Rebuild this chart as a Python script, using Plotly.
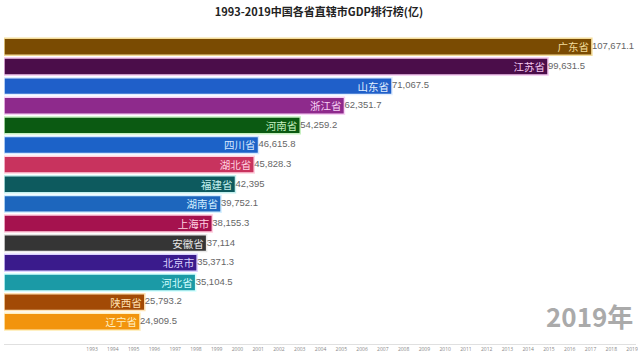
import plotly.graph_objects as go

provinces = ["广东省", "江苏省", "山东省", "浙江省", "河南省", "四川省", "湖北省", "福建省",
             "湖南省", "上海市", "安徽省", "北京市", "河北省", "陕西省", "辽宁省"]
gdp = [107671.1, 99631.5, 71067.5, 62351.7, 54259.2, 46615.8, 45828.3, 42395,
       39752.1, 38155.3, 37114, 35371.3, 35104.5, 25793.2, 24909.5]
bar_colors = ["#7a4b02", "#4b0d4a", "#1f5fc9", "#8e2a8c", "#0b5a12", "#1c62c8", "#c8335e", "#0d5a5e",
              "#1d66bd", "#a5124e", "#353535", "#3a1b8c", "#1b9aa6", "#a24a06", "#f2940d"]
label_colors = ["#f3dc9a", "#f3c6ef", "#e2efff", "#f8d2f5", "#c6f0c0", "#d4e8ff", "#ffd2e0", "#c4f0ef",
                "#d4efff", "#ffd0e0", "#e8e8e8", "#dcd2ff", "#d2ffff", "#ffe2b4", "#fff0c2"]
years = list(range(1993, 2020))
current_year = "2019年"
title = "1993-2019中国各省直辖市GDP排行榜(亿)"


def fmt(v):
    s = f"{v:,.1f}"
    return s[:-2] if s.endswith(".0") else s


n = len(provinces)
fig = go.Figure()
fig.add_trace(go.Bar(
    x=gdp, y=provinces, orientation="h",
    marker=dict(color=bar_colors, line=dict(color=label_colors, width=1.5)),
    text=provinces, textposition="inside", insidetextanchor="end", constraintext="none",
    textfont=dict(color=label_colors, size=10.5, family="Noto Sans CJK SC"),
    cliponaxis=False, hoverinfo="skip", width=0.86,
))
fig.add_trace(go.Scatter(
    x=gdp, y=provinces, mode="text", text=[fmt(v) for v in gdp],
    textposition="middle right",
    textfont=dict(color="#666666", size=9.5, family="Liberation Sans"),
    cliponaxis=False, hoverinfo="skip",
))
# timeline axis (invisible trace so that it is drawn)
fig.add_trace(go.Scatter(x=years, y=[provinces[0]] * len(years), xaxis="x2",
                         mode="markers", marker=dict(opacity=0, size=1), hoverinfo="skip"))

fig.update_layout(
    width=638, height=360,
    margin=dict(l=4, r=2, t=37, b=8, autoexpand=False),
    paper_bgcolor="white", plot_bgcolor="white",
    showlegend=False,
    title=dict(text=f"<b>{title}</b>", x=0.5, xanchor="center", y=0.965, yanchor="middle",
               font=dict(size=11, color="#222222", family="Noto Sans CJK SC")),
    xaxis=dict(range=[0, 115750], visible=False),
    xaxis2=dict(overlaying="x", range=[1988.76, 2019.19], anchor="free", position=0.025,
                tickvals=years, ticktext=[str(y) for y in years],
                tickfont=dict(size=5, color="#888888"), showgrid=False, showline=True,
                linecolor="#e0e0e0", ticks="", zeroline=False),
    yaxis=dict(domain=[0.065, 1.0], range=[n - 0.5, -0.5], visible=False,
               categoryorder="array", categoryarray=provinces),
    bargap=0.1,
    annotations=[dict(text=f"<b>{current_year}</b>", x=0.998, y=0.115, xref="paper", yref="paper",
                      xanchor="right", yanchor="middle", showarrow=False,
                      font=dict(size=26, color="#aaaaaa", family="Noto Sans CJK SC"))],
)

fig.write_html("out.html", config={"displayModeBar": False},
               post_script="document.body.style.margin='0';")
